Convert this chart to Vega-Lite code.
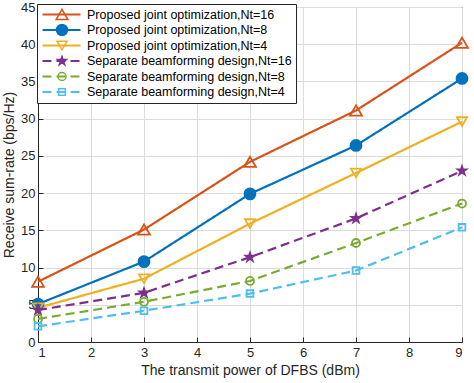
{
  "$schema": "https://vega.github.io/schema/vega-lite/v6.json",
  "width": 424,
  "height": 335,
  "autosize": {"type": "none"},
  "padding": {"left": 38, "top": 7, "right": 12, "bottom": 41},
  "background": "white",
  "config": {
    "view": {"stroke": "#262626", "strokeWidth": 1},
    "font": "Liberation Sans",
    "axis": {
      "grid": true,
      "gridColor": "#dcdcdc",
      "gridWidth": 1,
      "domainColor": "#262626",
      "tickColor": "#262626",
      "tickSize": -5,
      "labelColor": "#262626",
      "labelFontSize": 13,
      "labelFont": "Liberation Sans",
      "titleFont": "Liberation Sans",
      "titleFontSize": 14,
      "titleFontWeight": "normal",
      "titleColor": "#262626"
    }
  },
  "data": {
    "values": [
      {"x": 1, "y": 8.1, "s": "Proposed joint optimization,Nt=16", "g": "P16"},
      {"x": 3, "y": 15.1, "s": "Proposed joint optimization,Nt=16", "g": "P16"},
      {"x": 5, "y": 24.2, "s": "Proposed joint optimization,Nt=16", "g": "P16"},
      {"x": 7, "y": 31.1, "s": "Proposed joint optimization,Nt=16", "g": "P16"},
      {"x": 9, "y": 40.2, "s": "Proposed joint optimization,Nt=16", "g": "P16"},
      {"x": 1, "y": 5.1, "s": "Proposed joint optimization,Nt=8", "g": "P8"},
      {"x": 3, "y": 10.8, "s": "Proposed joint optimization,Nt=8", "g": "P8"},
      {"x": 5, "y": 19.9, "s": "Proposed joint optimization,Nt=8", "g": "P8"},
      {"x": 7, "y": 26.4, "s": "Proposed joint optimization,Nt=8", "g": "P8"},
      {"x": 9, "y": 35.4, "s": "Proposed joint optimization,Nt=8", "g": "P8"},
      {"x": 1, "y": 4.6, "s": "Proposed joint optimization,Nt=4", "g": "P4"},
      {"x": 3, "y": 8.5, "s": "Proposed joint optimization,Nt=4", "g": "P4"},
      {"x": 5, "y": 15.9, "s": "Proposed joint optimization,Nt=4", "g": "P4"},
      {"x": 7, "y": 22.7, "s": "Proposed joint optimization,Nt=4", "g": "P4"},
      {"x": 9, "y": 29.6, "s": "Proposed joint optimization,Nt=4", "g": "P4"},
      {"x": 1, "y": 4.3, "s": "Separate beamforming design,Nt=16", "g": "S16"},
      {"x": 3, "y": 6.6, "s": "Separate beamforming design,Nt=16", "g": "S16"},
      {"x": 5, "y": 11.4, "s": "Separate beamforming design,Nt=16", "g": "S16"},
      {"x": 7, "y": 16.6, "s": "Separate beamforming design,Nt=16", "g": "S16"},
      {"x": 9, "y": 23.0, "s": "Separate beamforming design,Nt=16", "g": "S16"},
      {"x": 1, "y": 3.1, "s": "Separate beamforming design,Nt=8", "g": "S8"},
      {"x": 3, "y": 5.4, "s": "Separate beamforming design,Nt=8", "g": "S8"},
      {"x": 5, "y": 8.2, "s": "Separate beamforming design,Nt=8", "g": "S8"},
      {"x": 7, "y": 13.3, "s": "Separate beamforming design,Nt=8", "g": "S8"},
      {"x": 9, "y": 18.6, "s": "Separate beamforming design,Nt=8", "g": "S8"},
      {"x": 1, "y": 2.1, "s": "Separate beamforming design,Nt=4", "g": "S4"},
      {"x": 3, "y": 4.2, "s": "Separate beamforming design,Nt=4", "g": "S4"},
      {"x": 5, "y": 6.5, "s": "Separate beamforming design,Nt=4", "g": "S4"},
      {"x": 7, "y": 9.6, "s": "Separate beamforming design,Nt=4", "g": "S4"},
      {"x": 9, "y": 15.4, "s": "Separate beamforming design,Nt=4", "g": "S4"}
    ]
  },
  "encoding": {
    "x": {
      "field": "x", "type": "quantitative",
      "scale": {"domain": [1, 9], "nice": false, "zero": false},
      "axis": {"values": [1, 2, 3, 4, 5, 6, 7, 8, 9], "title": "The transmit power of DFBS (dBm)", "labelPadding": 9, "titlePadding": 4}
    },
    "y": {
      "field": "y", "type": "quantitative",
      "scale": {"domain": [0, 45], "nice": false},
      "axis": {"values": [0, 5, 10, 15, 20, 25, 30, 35, 40, 45], "title": "Receive sum-rate (bps/Hz)", "labelPadding": 8, "titlePadding": 4}
    }
  },
  "layer": [
    {
      "mark": {"type": "line", "strokeWidth": 2.2},
      "encoding": {
        "color": {
          "field": "s", "type": "nominal",
          "scale": {
            "domain": ["Proposed joint optimization,Nt=16", "Proposed joint optimization,Nt=8", "Proposed joint optimization,Nt=4", "Separate beamforming design,Nt=16", "Separate beamforming design,Nt=8", "Separate beamforming design,Nt=4"],
            "range": ["#D95319", "#0072BD", "#EDB120", "#7E2F8E", "#77AC30", "#4DBEEE"]
          },
          "legend": {
            "orient": "none", "legendX": -1, "legendY": -3, "title": null,
            "symbolSize": 1444, "symbolStrokeWidth": 2.2, "symbolOffset": 0, "clipHeight": 13,
            "labelFontSize": 12.5, "labelColor": "#000000", "labelFont": "Liberation Sans", "labelLimit": 0,
            "labelOffset": 5, "rowPadding": 2.5, "padding": 4,
            "fillColor": "white", "strokeColor": "#262626", "zindex": 1
          }
        },
        "strokeDash": {
          "field": "s", "type": "nominal",
          "scale": {
            "domain": ["Proposed joint optimization,Nt=16", "Proposed joint optimization,Nt=8", "Proposed joint optimization,Nt=4", "Separate beamforming design,Nt=16", "Separate beamforming design,Nt=8", "Separate beamforming design,Nt=4"],
            "range": [[1, 0], [1, 0], [1, 0], [9, 5], [9, 5], [9, 5]]
          },
          "legend": {
            "orient": "none", "legendX": -1, "legendY": -3, "title": null,
            "symbolSize": 1444, "symbolStrokeWidth": 2.2, "symbolOffset": 0, "clipHeight": 13,
            "labelFontSize": 12.5, "labelColor": "#000000", "labelFont": "Liberation Sans", "labelLimit": 0,
            "labelOffset": 5, "rowPadding": 2.5, "padding": 4,
            "fillColor": "white", "strokeColor": "#262626", "zindex": 1
          }
        }
      }
    },
    {
      "mark": {"type": "point", "filled": false, "strokeWidth": 1.8, "opacity": 1},
      "encoding": {
        "stroke": {
          "field": "g", "type": "nominal",
          "scale": {"domain": ["P16", "P8", "P4", "S16", "S8", "S4"], "range": ["#D95319", "#0072BD", "#EDB120", "#7E2F8E", "#77AC30", "#4DBEEE"]},
          "legend": {"orient": "none", "legendX": 13, "legendY": -3, "title": null, "labelExpr": "''", "labelFontSize": 12.5, "clipHeight": 13, "rowPadding": 2.5, "padding": 4, "zindex": 2}
        },
        "fill": {
          "field": "g", "type": "nominal",
          "scale": {"domain": ["P16", "P8", "P4", "S16", "S8", "S4"], "range": ["transparent", "#0072BD", "transparent", "#7E2F8E", "transparent", "transparent"]},
          "legend": {"orient": "none", "legendX": 13, "legendY": -3, "title": null, "labelExpr": "''", "labelFontSize": 12.5, "clipHeight": 13, "rowPadding": 2.5, "padding": 4, "zindex": 2}
        },
        "shape": {
          "field": "g", "type": "nominal",
          "scale": {"domain": ["P16", "P8", "P4", "S16", "S8", "S4"], "range": ["triangle-up", "circle", "triangle-down", "M0,-1L0.225,-0.309L0.951,-0.309L0.363,0.118L0.588,0.809L0,0.382L-0.588,0.809L-0.363,0.118L-0.951,-0.309L-0.225,-0.309Z", "circle", "square"]},
          "legend": {"orient": "none", "legendX": 13, "legendY": -3, "title": null, "labelExpr": "''", "labelFontSize": 12.5, "clipHeight": 13, "rowPadding": 2.5, "padding": 4, "zindex": 2}
        },
        "size": {
          "field": "g", "type": "nominal",
          "scale": {"domain": ["P16", "P8", "P4", "S16", "S8", "S4"], "range": [140, 45, 140, 250, 75, 45]},
          "legend": {"orient": "none", "legendX": 13, "legendY": -3, "title": null, "labelExpr": "''", "labelFontSize": 12.5, "clipHeight": 13, "rowPadding": 2.5, "padding": 4, "zindex": 2}
        }
      }
    }
  ]
}
